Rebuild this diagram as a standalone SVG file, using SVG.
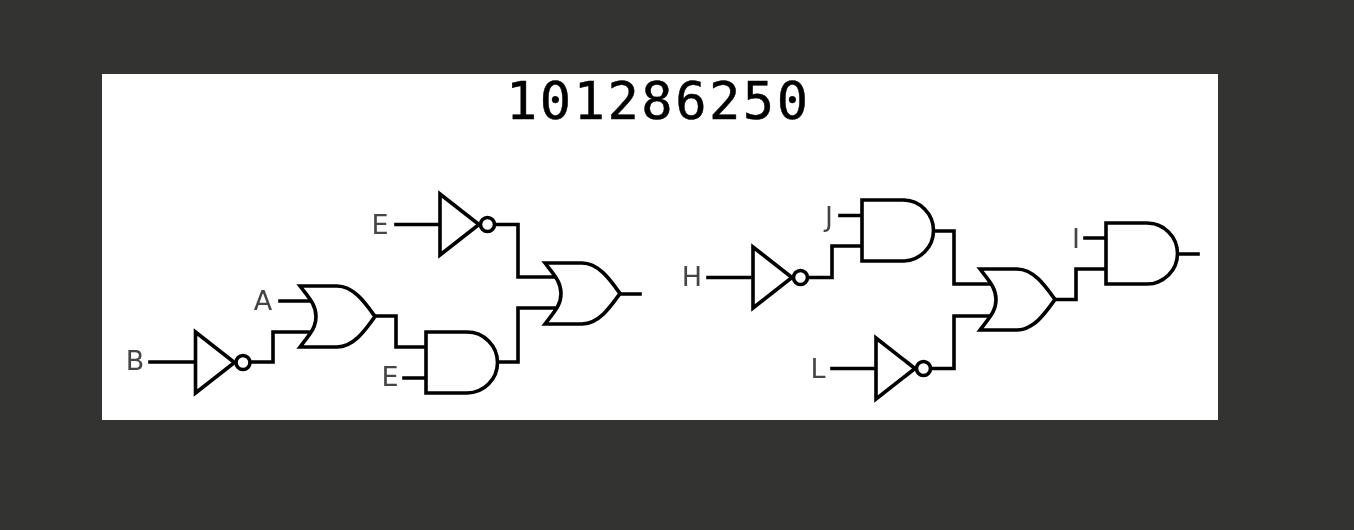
<svg xmlns="http://www.w3.org/2000/svg" width="1354" height="530" viewBox="0 0 1354 530">
<style>
.s{fill:none;stroke:#000;stroke-width:3.6;stroke-linejoin:miter;stroke-linecap:square}
.g{fill:#fff;stroke:#000;stroke-width:3.6;stroke-linejoin:miter}
.l{font-family:"DejaVu Sans",sans-serif;font-size:27px;fill:#444;text-anchor:middle}
.t{font-family:"DejaVu Sans Mono",monospace;font-size:52px;fill:#000;stroke:#000;stroke-width:0.5;text-anchor:middle}
</style>
<defs>
<filter id="soft" filterUnits="userSpaceOnUse" x="102" y="74" width="1116" height="346"><feGaussianBlur stdDeviation="0.5"/></filter>
<g id="not"><path class="g" d="M0,-30.500V30.500L39,0Z"/><circle class="g" cx="47.500" cy="0" r="7"/></g>
<path id="and" class="g" d="M0,0V61H41A30.500,30.500 0 0 0 41,0Z"/>
<path id="or" class="g" d="M0,0H37C54,0 66,18 75,30.500C66,43 54,61 37,61H0C10,48 16,42 16,30.500C16,19 10,13 0,0Z"/>
</defs>
<rect width="1354" height="530" fill="#333332"/>
<rect x="102" y="74" width="1116" height="346" fill="#fff"/>
<g filter="url(#soft)">
<text class="t" x="657" y="119" textLength="302" lengthAdjust="spacing">101286250</text>
<g id="connectors">
<path class="s" d="M150,362H196M250,362H273V332H308M280,301H312M375,316H396V347H426M404,378H426M497,362H518V308H554M396,224.500H440M495,224.500H518V277H554M620,294H640"/>
<path class="s" d="M708,277.500H753M808,277.500H832V246H862M840,215.500H862M933,231H954V284H990M832,368.500H876M931,368.500H954V316H990M1055,299.500H1076V269H1106M1085,238H1106M1178,254H1198"/>
</g>
<g id="not-b"><use href="#not" x="195.500" y="362.500"/></g>
<g id="or-a"><use href="#or" x="300" y="286"/></g>
<g id="and-e"><use href="#and" x="426" y="332"/></g>
<g id="not-e"><use href="#not" x="440" y="224.500"/></g>
<g id="or-out"><use href="#or" x="545" y="263"/></g>
<g id="not-h"><use href="#not" x="753" y="277.500"/></g>
<g id="and-j"><use href="#and" x="862" y="200"/></g>
<g id="not-l"><use href="#not" x="876" y="368.500"/></g>
<g id="or-mid"><use href="#or" x="980" y="269"/></g>
<g id="and-i"><use href="#and" x="1106" y="223"/></g>
<g id="labels">
<text class="l" x="135" y="370">B</text>
<text class="l" x="263" y="310">A</text>
<text class="l" x="380" y="234">E</text>
<text class="l" x="390" y="386">E</text>
<text class="l" x="692" y="286">H</text>
<text class="l" x="829" y="226">J</text>
<text class="l" x="818" y="378">L</text>
<text class="l" x="1076" y="248">I</text>
</g>
</g>
</svg>
